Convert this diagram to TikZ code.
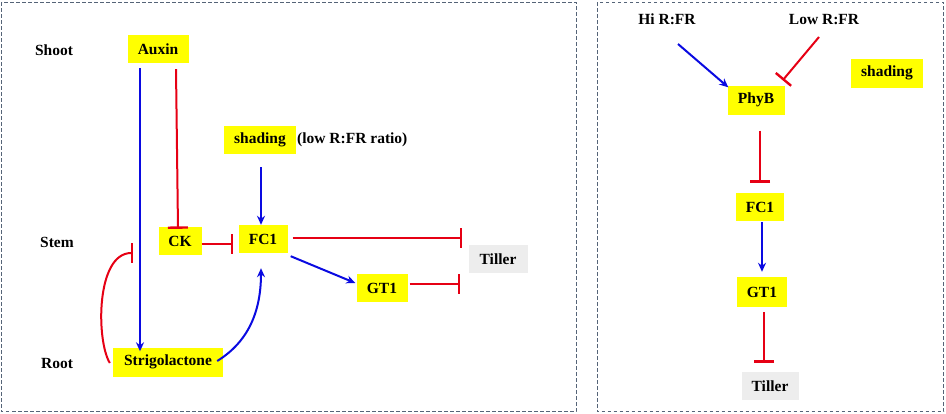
\documentclass[tikz,border=0pt]{standalone}
\usepackage{fontspec}
\setmainfont{Liberation Serif}
\usetikzlibrary{arrows.meta}
\definecolor{boxyellow}{RGB}{255,255,0}
\definecolor{boxgray}{RGB}{237,237,237}
\definecolor{actblue}{RGB}{10,10,225}
\definecolor{inhred}{RGB}{230,0,20}
\definecolor{frame}{RGB}{85,100,120}
\begin{document}
\begin{tikzpicture}[x=1pt,y=-1pt,
  every node/.style={font=\fontsize{15.5}{18}\selectfont\bfseries, inner sep=0pt},
  ybox/.style={fill=boxyellow, minimum height=28pt},
  gbox/.style={fill=boxgray, minimum height=28pt},
  plain/.style={},
  act/.style={actblue, line width=2pt, -{Stealth[length=9pt,width=8pt]}},
  inh/.style={inhred, line width=2pt, -{Bar[width=20pt,line width=2.4pt]}},
  panel/.style={frame, dashed, dash pattern=on 3.5pt off 2.5pt, line width=0.6pt}]
\useasboundingbox (0,0) rectangle (946,413);
% panels
\draw[panel] (1.5,2) rectangle (576,411.5);
\draw[panel] (597,2) rectangle (943.5,411.5);

% left panel labels
\node[plain] (shoot) at (54,50) {Shoot};
\node[plain] (stem) at (57,242) {Stem};
\node[plain] (root) at (57,363) {Root};

% left panel nodes
\node[ybox, minimum width=61pt] (auxin) at (158,49) {Auxin};
\node[ybox, minimum width=72pt] (shading) at (260,140) {shading};
\node[plain, anchor=west] (ratio) at (297,140) {(low R:FR ratio)};
\node[ybox, minimum width=43pt] (ck) at (180,241) {CK};
\node[ybox, minimum width=49pt] (fc1) at (263,239) {FC1};
\node[gbox, minimum width=59pt] (tiller) at (498,259) {Tiller};
\node[ybox, minimum width=51pt] (gt1) at (382,288) {GT1};
\node[ybox, minimum width=110pt, minimum height=29pt] (sl) at (168,362) {Strigolactone};

\coordinate (slbar) at (133,253);

% left connectors
\draw[act] ([xshift=-18pt,yshift=-5pt]auxin.south) -- ([xshift=-28pt,yshift=-4pt]sl.north);
\draw[inh] ([xshift=18pt,yshift=-6pt]auxin.south) -- ([xshift=-2pt,yshift=-2pt]ck.north);
\draw[inh] ([xshift=-3pt,yshift=-1pt]sl.west) .. controls (96,340) and (96,253) .. (slbar);
\draw[inh] ([yshift=-3pt]ck.east) -- ([xshift=-5pt,yshift=-5pt]fc1.west);
\draw[act] ([xshift=1pt,yshift=-13pt]shading.south) -- ([xshift=-2pt]fc1.north);
\draw[act] ([xshift=-6pt,yshift=1pt]sl.east) .. controls (248,342) and (261,312) .. ([xshift=-2pt,yshift=-15pt]fc1.south);
\draw[inh] ([xshift=5pt,yshift=1pt]fc1.east) -- ([xshift=-6pt,yshift=21pt]tiller.west);
\draw[act] ([xshift=3pt,yshift=-3pt]fc1.south east) -- ([xshift=-1pt,yshift=5pt]gt1.west);
\draw[inh] ([xshift=2pt,yshift=4pt]gt1.east) -- ([xshift=-8pt,yshift=-25pt]tiller.west);

% right panel nodes
\node[plain] (hi) at (667,19) {Hi R:FR};
\node[plain] (low) at (824,20) {Low R:FR};
\node[ybox, minimum width=72pt, minimum height=29pt] (shading2) at (887,73) {shading};
\node[ybox, minimum width=57pt, minimum height=29pt] (phyb) at (756,100) {PhyB};
\node[ybox, minimum width=48pt] (fc1b) at (760,207) {FC1};
\node[ybox, minimum width=50pt, minimum height=30pt] (gt1b) at (762,292) {GT1};
\node[gbox, minimum width=57pt] (tillerb) at (770,386) {Tiller};

% right connectors
\draw[act] ([xshift=11pt,yshift=-25pt]hi.center) -- ([xshift=1pt,yshift=-2pt]phyb.north west);
\draw[inh] ([xshift=-5pt,yshift=-17pt]low.center) -- ([xshift=-2pt,yshift=5pt]phyb.north east);
\draw[inh] ([xshift=4pt,yshift=-16pt]phyb.south) -- ([yshift=10pt]fc1b.north);
\draw[act] ([xshift=2pt,yshift=-1pt]fc1b.south) -- ([yshift=5pt]gt1b.north);
\draw[inh] ([xshift=2pt,yshift=-5pt]gt1b.south) -- ([xshift=-6pt,yshift=9pt]tillerb.north);
\end{tikzpicture}
\end{document}
